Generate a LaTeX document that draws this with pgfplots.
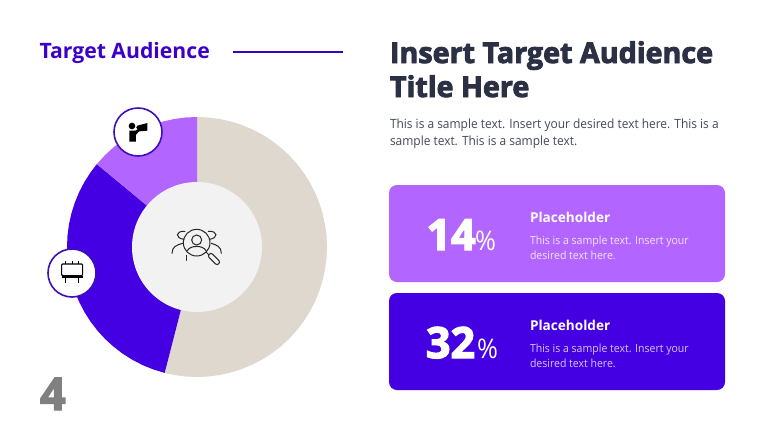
\documentclass[border=0pt]{standalone}
\usepackage{pgfplots}
\pgfplotsset{compat=1.18}
\usepgfplotslibrary{polar}
\usepackage{fontspec}
\setmainfont{Open Sans}
\newfontfamily\blkf[BoldFeatures={FakeBold=3}]{Open Sans}
\newfontfamily\sn[FakeStretch=0.94]{Open Sans}
\newcommand{\blk}{\blkf\bfseries}
\definecolor{beige}{HTML}{DED8CF}
\definecolor{lightp}{HTML}{B266FF}
\definecolor{darkp}{HTML}{4400E2}
\definecolor{ink}{HTML}{2B3044}
\definecolor{bodyt}{HTML}{444858}
\definecolor{ringc}{HTML}{3F10B8}
\definecolor{centerc}{HTML}{F2F2F2}
\definecolor{lav}{HTML}{F0E2FF}
\definecolor{lav2}{HTML}{D9C4FF}
\newcommand{\fs}[1]{\fontsize{#1}{#1}\selectfont}
\begin{document}
\begin{tikzpicture}[x=1pt,y=-1pt,
  tx/.style={anchor=base west,inner sep=0pt,outer sep=0pt}]
\useasboundingbox (0,0) rectangle (768,432);
\fill[white] (0,0) rectangle (768,432);
% shares: 54, 32, 14 per cent, clockwise from the top; radius 130 px
\begin{axis}[at={(0pt,-432pt)},anchor=south west,scale only axis,
  width=768pt,height=432pt,hide axis,
  xmin=-197,xmax=571,ymin=-185,ymax=247,clip=false]
\addplot[fill=beige,draw=none,data cs=polar] coordinates {
(0,0)(90,130)(85,130)(80,130)(75,130)(70,130)(65,130)(60,130)(55,130)(50,130)(45,130)
(40,130)(35,130)(30,130)(25,130)(20,130)(15,130)(10,130)(5,130)(0,130)
(-5,130)(-10,130)(-15,130)(-20,130)(-25,130)(-30,130)(-35,130)(-40,130)(-45,130)(-50,130)
(-55,130)(-60,130)(-65,130)(-70,130)(-75,130)(-80,130)(-85,130)(-90,130)(-95,130)(-100,130)(-104.4,130)
} -- cycle;
\addplot[fill=darkp,draw=none,data cs=polar] coordinates {
(0,0)(-104.4,130)(-110,130)(-115,130)(-120,130)(-125,130)(-130,130)(-135,130)(-140,130)(-145,130)
(-150,130)(-155,130)(-160,130)(-165,130)(-170,130)(-175,130)(-180,130)(-185,130)(-190,130)(-195,130)
(-200,130)(-205,130)(-210,130)(-215,130)(-219.6,130)
} -- cycle;
\addplot[fill=lightp,draw=none,data cs=polar] coordinates {
(0,0)(140.4,130)(135,130)(130,130)(125,130)(120,130)(115,130)(110,130)(105,130)(100,130)(95,130)(90,130)
} -- cycle;
\end{axis}
% centre
\fill[centerc] (197,247) circle[radius=65];
% search icon
\begin{scope}[shift={(130,190)},x=0.3333pt,y=-0.3333pt,draw=black!85,line width=1pt,line cap=round]
\draw (200,158) circle[radius=40];
\draw (200,150) circle[radius=15];
\draw (172,182) .. controls (180,165) and (220,165) .. (228,182);
\draw (162,148) .. controls (135,145) and (135,122) .. (165,124);
\draw (238,148) .. controls (265,145) and (265,122) .. (235,124);
\draw (126,190) .. controls (126,170) and (140,165) .. (158,160);
\draw (274,190) .. controls (274,170) and (260,165) .. (244,160);
\draw (171,196) -- (171,211);
\draw (228,186) -- (236,194);
\draw[rotate around={-45:(252,207)},rounded corners=2pt] (232,200) rectangle (272,214);
\end{scope}
% icon circles
\draw[fill=white,draw=ringc,line width=1.6pt] (138,132) circle[radius=24];
\draw[fill=white,draw=ringc,line width=1.6pt] (72,273) circle[radius=24];
\begin{scope}[shift={(30,90)},x=0.3333pt,y=-0.3333pt]
\fill[black] (306,108) circle[radius=10];
\fill[black] (322,107) -- (352,99) -- (352,122) -- (328,124) -- (318,134) -- (318,155) -- (298,155) -- (298,122) -- (314,122) -- cycle;
\fill[white] (312,116) -- (318,112) -- (322,118) -- (316,122) -- cycle;
\draw[black,line width=1.1pt,rounded corners=1pt] (95,522) rectangle (158,557);
\draw[black,line width=1.8pt] (95,561) -- (158,561);
\draw[black,line width=1.2pt] (107,522) -- (107,514) (146,522) -- (146,514) (127,522) -- (127,514);
\draw[black,line width=1.4pt] (106,561) -- (106,578) (146,561) -- (146,578);
\end{scope}
% left heading
\node[tx,text=darkp!90!black] at (39.5,58) {\fs{21.2}\bfseries Target Audience};
\draw[darkp!85!black,line width=1.9pt] (233,51.7) -- (343,51.7);
\node[tx,text=black!50] at (40,410) {\fs{45}\blk 4};
% right heading
\node[tx,text=ink] at (390,63) {\fs{28.7}\blk Insert Target Audience};
\node[tx,text=ink] at (390,97) {\fs{28.7}\blk Title Here};
\node[tx,text=bodyt] at (390,128) {\fs{12.7}\sn This is a sample text. Insert your desired text here. This is a};
\node[tx,text=bodyt] at (390,145) {\fs{12.7}\sn sample text. This is a sample text.};
% cards
\fill[lightp,rounded corners=8pt] (389,185) rectangle (725,282);
\fill[darkp,rounded corners=8pt] (389,293) rectangle (725,390);
\node[tx,text=white] at (426.5,250) {\fs{43}\blk 14};
\node[tx,text=white] at (475,250) {\fs{27}\sn\%};
\node[tx,text=white] at (530,222) {\fs{13.6}\bfseries Placeholder};
\node[tx,text=lav] at (530,244) {\fs{11.2}\sn This is a sample text. Insert your};
\node[tx,text=lav] at (530,259) {\fs{11.2}\sn desired text here.};
\node[tx,text=white] at (426,358) {\fs{43}\blk 32};
\node[tx,text=white] at (477,358) {\fs{27}\sn\%};
\node[tx,text=white] at (530,330) {\fs{13.6}\bfseries Placeholder};
\node[tx,text=lav2] at (530,352) {\fs{11.2}\sn This is a sample text. Insert your};
\node[tx,text=lav2] at (530,367) {\fs{11.2}\sn desired text here.};
\end{tikzpicture}
\end{document}
